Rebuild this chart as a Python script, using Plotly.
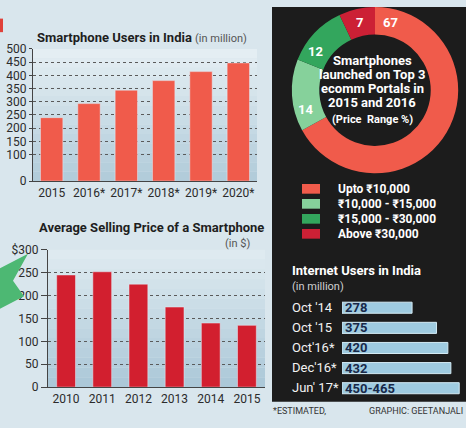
import math
import plotly.graph_objects as go

W, H = 466, 428

# ---- data ----
user_years = ['2015', '2016*', '2017*', '2018*', '2019*', '2020*']
user_vals = [240, 293, 344, 380, 414, 447]

asp_years = ['2010', '2011', '2012', '2013', '2014', '2015']
asp_vals = [245, 252, 225, 175, 140, 135]

price_ranges = ['Upto \u20b910,000', '\u20b910,000 - \u20b915,000',
                '\u20b915,000 - \u20b930,000', 'Above \u20b930,000']
price_share = [67, 14, 12, 7]
price_colors = ['#f05b4b', '#86d19b', '#33a65d', '#cc2035']

net_periods = ["Oct '14", "Oct '15", "Oct'16*", "Dec'16*", "Jun' 17*"]
net_vals = [278, 375, 420, 432, 465]
net_text = ['278', '375', '420', '432', '450-465']

FONT = "Roboto, Open Sans, sans-serif"


def px(x):
    return x / W


def py(y):
    return 1 - y / H


fig = go.Figure()

# top chart: smartphone users
fig.add_trace(go.Bar(x=user_years, y=user_vals, marker_color='#f05b4b',
                     xaxis='x', yaxis='y', width=0.6, showlegend=False))
# bottom chart: ASP
fig.add_trace(go.Bar(x=asp_years, y=asp_vals, marker_color='#d21f2f',
                     xaxis='x2', yaxis='y2', width=0.52, showlegend=False))
# internet users
fig.add_trace(go.Bar(y=net_periods, x=net_vals, orientation='h',
                     marker=dict(color='#9fcbe0', line=dict(color='#d3eaf4', width=1)),
                     text=net_text, textposition='inside', insidetextanchor='start',
                     constraintext='none',
                     textfont=dict(family=FONT, size=13, color='#18294a', weight='bold'),
                     xaxis='x3', yaxis='y3', width=0.55, showlegend=False))
# donut
fig.add_trace(go.Pie(values=price_share, labels=price_ranges, sort=False,
                     direction='clockwise', rotation=0, hole=0.67,
                     marker=dict(colors=price_colors, line=dict(width=0)),
                     textinfo='none', showlegend=False,
                     domain=dict(x=[px(289), px(461)], y=[py(172), 1])))

axis_font = dict(family=FONT, size=12, color='#2b2b2b')
shapes = []
annotations = []

# background panels
shapes.append(dict(type='rect', xref='paper', yref='paper', x0=px(272), x1=1,
                   y0=py(408), y1=1, fillcolor='#1c1c1c', line_width=0, layer='below'))


# gradient bands for plot areas
def bands(xa, ya, c0, c1, n=14):
    for i in range(n):
        t = i / (n - 1)
        col = 'rgb(%d,%d,%d)' % tuple(round(a + (b - a) * t) for a, b in zip(c0, c1))
        shapes.append(dict(type='rect', xref=xa + ' domain', yref=ya + ' domain',
                           x0=0, x1=1, y0=1 - (i + 1) / n, y1=1 - i / n,
                           fillcolor=col, line_width=0, layer='below'))


bands('x', 'y', (228, 238, 243), (178, 204, 218))
bands('x2', 'y2', (222, 234, 240), (172, 200, 216))

# decorative ribbon and red corner
shapes.append(dict(type='path', xref='paper', yref='paper', fillcolor='#4db873', line_width=0,
                   path='M %f %f L %f %f L %f %f L %f %f L %f %f Z' % (
                       px(0), py(270), px(28), py(255), px(13), py(283),
                       px(24), py(299), px(0), py(312))))
shapes.append(dict(type='rect', xref='paper', yref='paper', x0=0, x1=px(3),
                   y0=py(26), y1=py(12), fillcolor='#e0413a', line_width=0))


def note(x, y, text, size=12, color='white', bold=False, anchor='left'):
    annotations.append(dict(xref='paper', yref='paper', x=px(x), y=py(y),
                            xanchor=anchor, yanchor='middle', showarrow=False,
                            text='<b>%s</b>' % text if bold else text,
                            font=dict(family=FONT, size=size, color=color)))


# titles
note(35, 32, '<b>Smartphone Users in India</b> '
     '<span style="font-size:11px;color:#555">(in million)</span>', size=13, color='#1e1e1e')
note(37, 228, 'Average Selling Price of a Smartphone', size=13, color='#1e1e1e', bold=True)
note(223, 244, '(in $)', size=11, color='#555')

# donut centre text
for i, line in enumerate(['Smartphones', 'launched on Top 3', 'ecomm Portals in', '2015 and 2016']):
    note(372, 55 + i * 14.5, line, size=13, bold=True, anchor='center')
note(372, 116, '(Price  Range %)', size=11, bold=True, anchor='center')

# donut value labels, placed a little past each slice's start
cx, cy, r = 375, 86, 72
start = 0.0
for v in price_share:
    ang = math.radians((start + 3.5) * 3.6)
    note(cx + r * math.sin(ang), cy - r * math.cos(ang), str(v), size=13, bold=True, anchor='center')
    start += v

# legend
for i, (lab, col) in enumerate(zip(price_ranges, price_colors)):
    yc = 188 + i * 15.5
    shapes.append(dict(type='rect', xref='paper', yref='paper', x0=px(302), x1=px(320),
                       y0=py(yc + 5), y1=py(yc - 5), fillcolor=col, line_width=0))
    note(336, yc, lab, size=12, bold=True)

# internet users
note(290, 272, 'Internet Users in India', size=13, bold=True)
note(290, 289, '(in million)', size=11, color='#d0d0d0')
for i, lab in enumerate(net_periods):
    note(290, 311 + i * 20.7, lab, size=13, color='#f2f2f2')

# footer
note(271, 418, '*ESTIMATED,', size=9, color='#333')
note(465, 418, 'GRAPHIC: GEETANJALI', size=9, color='#333', anchor='right')

grid = dict(showgrid=True, gridcolor='#5a5a5a', griddash='dot', gridwidth=1)

fig.update_layout(
    width=W, height=H, margin=dict(l=0, r=0, t=0, b=0),
    paper_bgcolor='#d9e6ed', plot_bgcolor='rgba(0,0,0,0)',
    font=dict(family=FONT),
    bargap=0.4,
    hovermode=False,
    xaxis=dict(domain=[px(33), px(257)], anchor='y', tickfont=axis_font,
               showline=True, linecolor='#444', ticks=''),
    yaxis=dict(domain=[py(180), py(43.3)], anchor='x', range=[0, 500],
               tickvals=[0, 100, 150, 200, 250, 300, 350, 400, 450, 500],
               tickfont=axis_font, showline=True, linecolor='#444',
               ticks='outside', ticklen=3, tickcolor='#444', zeroline=False,
               **grid),
    xaxis2=dict(domain=[px(48), px(265)], anchor='y2', tickfont=axis_font,
                showline=True, linecolor='#444', ticks=''),
    yaxis2=dict(domain=[py(393), py(251)], anchor='x2', range=[0, 300],
                tickvals=[0, 50, 100, 150, 200, 250, 300],
                ticktext=['0', '50', '100', '150', '200', '250', '$300'],
                tickfont=axis_font, showline=True, linecolor='#444',
                ticks='outside', ticklen=6, tickcolor='#444', zeroline=False,
                **grid),
    xaxis3=dict(domain=[px(342), px(464)], anchor='y3', range=[0, 484],
                visible=False),
    yaxis3=dict(domain=[py(404.5), py(300.5)], anchor='x3', autorange='reversed',
                visible=False),
    shapes=shapes,
    annotations=annotations,
)

# drop the default body margin so the figure fills the window
fig.write_html("out.html", config={'displayModeBar': False},
               post_script="document.body.style.margin='0';")
